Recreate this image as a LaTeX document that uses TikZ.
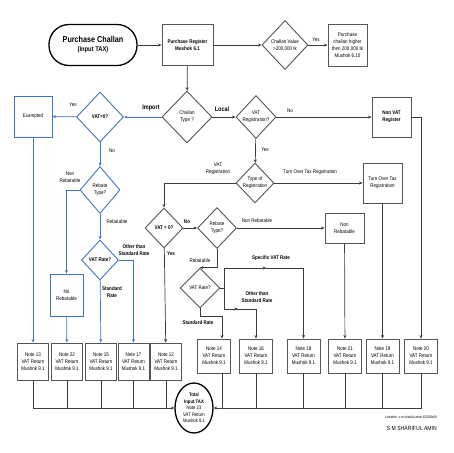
\documentclass[tikz,border=0pt]{standalone}
\usepackage{fontspec}
\setmainfont{Liberation Sans}[FakeStretch=0.85]
\usetikzlibrary{shapes.geometric,arrows.meta,positioning}
\definecolor{flowblue}{RGB}{62,116,200}
\definecolor{boxgray}{RGB}{85,85,85}
\definecolor{linegray}{RGB}{60,60,60}

\begin{document}
\begin{tikzpicture}[x=1pt,y=-1pt,
	every node/.style={font=\fontsize{5.3}{7}\selectfont,align=center,inner sep=0pt},
	box/.style={draw=boxgray,line width=0.9pt},
	dia/.style={diamond,draw=boxgray,line width=0.9pt,aspect=1},
	bbox/.style={box,draw=flowblue},
	bdia/.style={dia,draw=flowblue},
	ln/.style={draw=linegray,line width=0.7pt},
	arr/.style={ln,-{Stealth[length=3.5pt,width=3pt]}},
	barr/.style={arr,draw=flowblue},
	note/.style={box,minimum width=31,minimum height=37}]
	\useasboundingbox (0,0) rectangle (453,453);
	% top row
	\node[draw,line width=1.3pt,rounded corners=20pt,minimum width=88,minimum height=41] (pc) at (93,45)
		{\fontsize{8.5}{12}\selectfont\textbf{Purchase Challan}\\[2pt]\fontsize{6.8}{8}\selectfont\textbf{(Input TAX)}};
	\node[box,minimum width=51,minimum height=41] (preg) at (187.5,45) {\textbf{Purchase Register}\\\textbf{Mushok 6.1}};
	\node[dia,minimum width=46,minimum height=49] (cval) at (285,45) {Challan Value\\>200,000 tk};
	\node[box,minimum width=39,minimum height=42] (chigh) at (347.5,45) {Purchase\\challan higher\\then 200,000 tk\\Mushok 6.10};
	% second row
	\node[dia,minimum width=50,minimum height=52] (ctype) at (187,117) {Challan\\Type ?};
	\node[bdia,minimum width=47,minimum height=50] (vat0a) at (100,117) {\textbf{VAT=0?}};
	\node[bbox,minimum width=38,minimum height=41] (exm) at (33,116.5) {Exampted};
	\node[dia,minimum width=40,minimum height=43] (vreg) at (256,117) {VAT\\Registration?};
	\node[box,minimum width=39,minimum height=40] (nonvat) at (391.5,117) {\textbf{Non VAT}\\\textbf{Register}};
	% import branch
	\node[bdia,minimum width=40,minimum height=47] (reb1) at (100,190) {Rebate\\Type?};
	\node[bdia,minimum width=37,minimum height=40] (vr1) at (100,260) {\textbf{VAT Rate?}};
	\node[bbox,minimum width=33,minimum height=42] (nreb1) at (66.5,295) {No\\Rebatable};
	% local branch
	\node[dia,minimum width=38,minimum height=40] (treg) at (255,183) {Type of\\Registration};
	\node[box,minimum width=39,minimum height=40] (tot) at (382.5,183) {Turn Over Tax\\Registration};
	\node[dia,minimum width=38,minimum height=40] (vat0b) at (164,228) {\textbf{VAT = 0?}};
	\node[dia,minimum width=39,minimum height=41] (reb2) at (217,228) {Rebate\\Type?};
	\node[box,minimum width=39,minimum height=30] (nreb2) at (344.5,228) {Non\\Rebatable};
	\node[dia,minimum width=40,minimum height=40] (vr2) at (200,288) {VAT Rate?};
	\coordinate (sp) at (224,268);
	\coordinate (ot) at (224,309);
	% notes
	\foreach \n/\x in {13/33,22/67,15/101,17/133.5,12/166}
		\node[note] (n\n) at (\x,361.5) {Note \n\\VAT Return\\Mushok 9.1};
	\foreach \n/\x in {14/214,16/256,18/303.5,21/345,19/382.5,20/421}
		\node[note,minimum width=33,minimum height=34] (n\n) at (\x,356) {Note \n\\VAT Return\\Mushok 9.1};
	\node[ellipse,draw,line width=1.3pt,minimum width=38,minimum height=50,font=\fontsize{5}{6.5}\selectfont] (total) at (194,408)
		{\textbf{Total}\\\textbf{Input TAX}\\Note 23\\VAT Return\\Mushok 9.1};
	% labels
	\node (lyes1) at (316,40) {Yes};
	\node[font=\fontsize{6.5}{8}\selectfont\bfseries] (limport) at (151,108) {Import};
	\node[font=\fontsize{6.5}{8}\selectfont\bfseries] (llocal) at (222,109) {Local};
	\node (lyes2) at (73,105) {Yes};
	\node (lno1) at (112,151) {No};
	\node (lnonreb1) at (70,177) {Non\\Rebatable};
	\node (lreb1) at (117,222) {Rebatable};
	\node (lother1) at (134,250) {\textbf{Other than}\\\textbf{Standard Rate}};
	\node (lstd1) at (112,292) {\textbf{Standard}\\\textbf{Rate}};
	\node (lno2) at (290,111) {No};
	\node (lyes3) at (265,150) {Yes};
	\node (lvatreg) at (218,169) {VAT\\Registration};
	\node (lturn) at (310,172) {Turn Over Tax Registration};
	\node (lno3) at (187,222) {\textbf{No}};
	\node (lyes4) at (171,254) {\textbf{Yes}};
	\node (lnonreb2) at (257,221) {Non Rebatable};
	\node (lreb2) at (200,261) {Rebatable};
	\node (lspec) at (271,258) {\textbf{Specific VAT Rate}};
	\node (lother2) at (257,297) {\textbf{Other than}\\\textbf{Standard Rate}};
	\node (lstd2) at (198,323) {\textbf{Standard Rate}};
	\node[anchor=east,font=\fontsize{3.6}{4}\selectfont] (link) at (437,417) {Linkedin: s-m-shariful-amin-63201b68};
	\node[anchor=east,font=\fontsize{6}{7}\selectfont] (auth) at (437,428) {S M SHARIFUL AMIN};
	% connectors
	\draw[arr] (pc) -- (preg);
	\draw[arr] (preg) -- (cval);
	\draw[arr] (cval) -- (chigh);
	\draw[arr] (preg) -- (ctype);
	\draw[barr] (ctype) -- (vat0a);
	\draw[barr] (vat0a) -- (exm);
	\draw[barr] (vat0a) -- (reb1);
	\draw[barr] (reb1) -- (vr1);
	\draw[barr] (reb1.west) -| (nreb1.north);
	\draw[barr] (exm) -- (n13);
	\draw[barr] (nreb1) -- (n22);
	\draw[barr] (vr1) -- (n15);
	\draw[barr] (vr1.east) -| (n17.north);
	\draw[arr] (ctype) -- (vreg);
	\draw[arr] (vreg) -- (nonvat);
	\draw[arr] (vreg) -- (treg);
	\draw[arr] (treg) -- (tot);
	\draw[arr] (treg.west) -| (vat0b.north);
	\draw[arr] (vat0b) -- (n12);
	\draw[arr] (vat0b) -- (reb2);
	\draw[arr] (reb2) -- (nreb2);
	\draw[arr] (reb2.south) |- (vr2.north);
	\draw[arr] (vr2.east) -| (sp) -| (n18.north);
	\draw[arr] (sp) -- ++(42,0);
	\draw[arr] (vr2.east) -| (ot) -| (n16.north);
	\draw[arr] (ot) -- ++(14,0);
	\draw[arr] (vr2.south) -- ++(0,8) -| ([xshift=8pt]n14.north);
	\draw[arr] (nonvat.east) -| (n20.north);
	\draw[arr] (tot) -- (n19);
	\draw[arr] (nreb2) -- (n21);
	% collectors
	\draw[arr] (n13.south) |- (total.west);
	\foreach \n in {22,15,17,12}
		\draw[ln] (n\n.south) -- (n\n.south |- total.west);
	\draw[arr] (n20.south) |- (total.east);
	\foreach \n in {16,18,21,19}
		\draw[ln] (n\n.south) -- (n\n.south |- total.east);
	\draw[ln] ([xshift=8pt]n14.south) -- ([xshift=8pt]n14.south |- total.east);
\end{tikzpicture}
\end{document}
